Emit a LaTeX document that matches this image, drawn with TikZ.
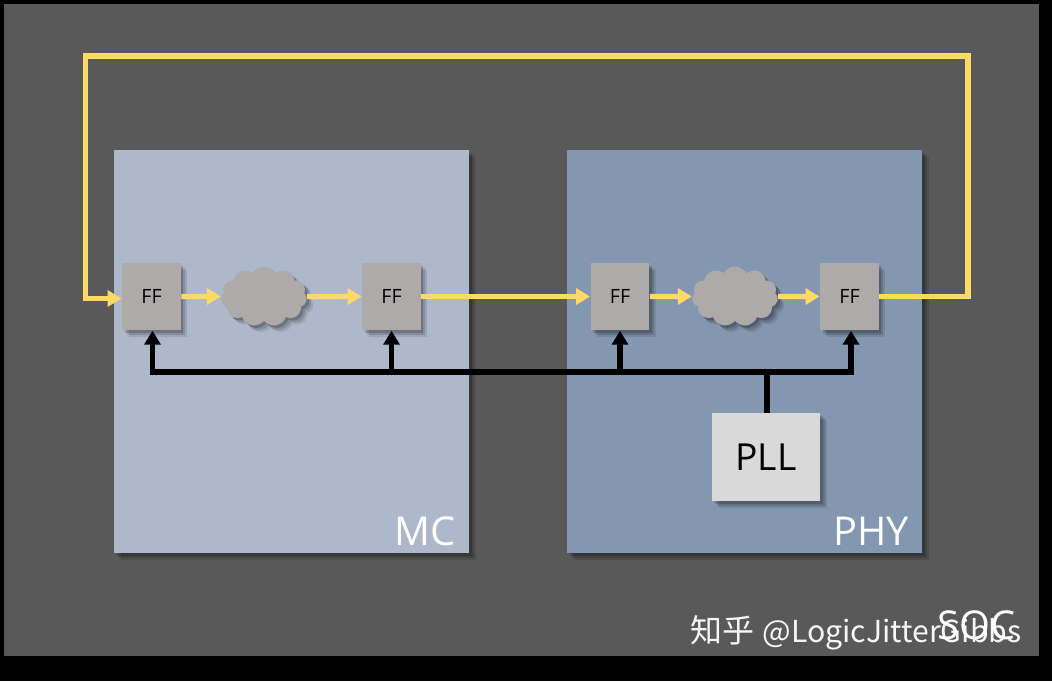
\documentclass[tikz,border=0pt]{standalone}
\usepackage{fontspec}
\setmainfont{Open Sans}
\newfontfamily\cjkfont{Noto Sans CJK SC}
\usetikzlibrary{arrows.meta,shadows,shapes.symbols}
\definecolor{socgray}{HTML}{595959}
\definecolor{mcblue}{HTML}{ADB9CA}
\definecolor{phyblue}{HTML}{8497B0}
\definecolor{ffgray}{HTML}{AEAAAA}
\definecolor{pllgray}{HTML}{D9D9D9}
\definecolor{datayellow}{HTML}{FFD966}
\tikzset{
  softshadow/.style={
    drop shadow={shadow xshift=0.065,shadow yshift=0.065,opacity=0.10,fill=black},
    drop shadow={shadow xshift=0.045,shadow yshift=0.045,opacity=0.14,fill=black},
    drop shadow={shadow xshift=0.025,shadow yshift=0.025,opacity=0.18,fill=black}},
  domainbox/.style={rectangle,inner sep=0pt,minimum width=3.55cm,minimum height=4.03cm,softshadow},
  ffbox/.style={rectangle,fill=ffgray,inner sep=0pt,minimum width=0.585cm,minimum height=0.67cm,
    font=\fontsize{5.6}{7}\selectfont,softshadow},
  logiccloud/.style={cloud,cloud puffs=11,cloud puff arc=120,aspect=1.45,fill=ffgray,inner sep=0pt,
    minimum width=0.86cm,minimum height=0.60cm,softshadow},
  bigtext/.style={text=white,inner sep=0pt,font=\fontsize{11.3}{14}\selectfont},
  dataline/.style={draw=datayellow,line width=1.5pt,
    -{Triangle[length=0.14cm,width=0.16cm,fill=datayellow]}},
  clkline/.style={draw=black,line width=1.6pt,
    -{Triangle[length=0.14cm,width=0.16cm,fill=black]}}
}
\begin{document}
\begin{tikzpicture}[x=1cm,y=-1cm]
  % Die background
  \fill[black] (0,0) rectangle (10.52,6.81);
  \fill[socgray] (0.04,0.04) rectangle (10.39,6.56);
  % Clock domains
  \node[domainbox,fill=mcblue,anchor=north west] (mc) at (1.135,1.495) {};
  \node[domainbox,fill=phyblue,anchor=north west] (phy) at (5.665,1.495) {};
  \node[bigtext,anchor=south east] (mclabel) at (4.565,5.465) {MC};
  \node[bigtext,anchor=south east] (phylabel) at (9.095,5.465) {PHY};
  \node[bigtext,anchor=south east] (soclabel) at (10.16,6.41) {SOC};
  % Flops, logic and PLL
  \node[ffbox] (ffa) at (1.515,2.965) {FF};
  \node[ffbox] (ffb) at (3.915,2.965) {FF};
  \node[ffbox] (ffc) at (6.20,2.965) {FF};
  \node[ffbox] (ffd) at (8.495,2.965) {FF};
  \node[logiccloud] (clouda) at (2.64,2.965) {};
  \node[logiccloud] (cloudb) at (7.35,2.965) {};
  \node[rectangle,fill=pllgray,inner sep=0pt,minimum width=1.08cm,minimum height=0.88cm,
    font=\fontsize{10.6}{14}\selectfont,softshadow] (pll) at (7.66,4.57) {PLL};
  % Data path
  \draw[dataline] (ffa.east) -- (clouda.west);
  \draw[dataline] (clouda.east) -- (ffb.west);
  \draw[dataline] (ffb.east) -- (ffc.west);
  \draw[dataline] (ffc.east) -- (cloudb.west);
  \draw[dataline] (cloudb.east) -- (ffd.west);
  \coordinate (loopr) at (9.68,2.965);
  \coordinate (loopl) at (0.855,2.985);
  \draw[dataline] (ffd.east) -- (loopr) -- (9.68,0.56) -- (0.855,0.56) -- (loopl) -- (ffa.west |- loopl);
  % Clock tree
  \coordinate (busl) at (1.525,3.72);
  \coordinate (busr) at (8.51,3.72);
  \coordinate (pllstem) at (7.67,4.13);
  \draw[black,line width=1.6pt] (pllstem) -- (pllstem |- busr);
  \draw[clkline] (busl) -- (busl |- ffa.south);
  \draw[clkline] (busr -| ffb) -- (ffb.south);
  \draw[clkline] (busr -| ffc) -- (ffc.south);
  \draw[clkline] (busr) -- (busr |- ffd.south);
  \draw[black,line width=1.6pt,line cap=rect] (busl) -- (busr);
  % Watermark
  \node[text=white,opacity=0.95,inner sep=0pt,anchor=base west,font=\fontsize{8.6}{11}\selectfont] (mark) at (6.90,6.42)
    {{\cjkfont\fontsize{9.1}{11}\selectfont 知乎} {\cjkfont @LogicJitterGibbs}};
\end{tikzpicture}
\end{document}
